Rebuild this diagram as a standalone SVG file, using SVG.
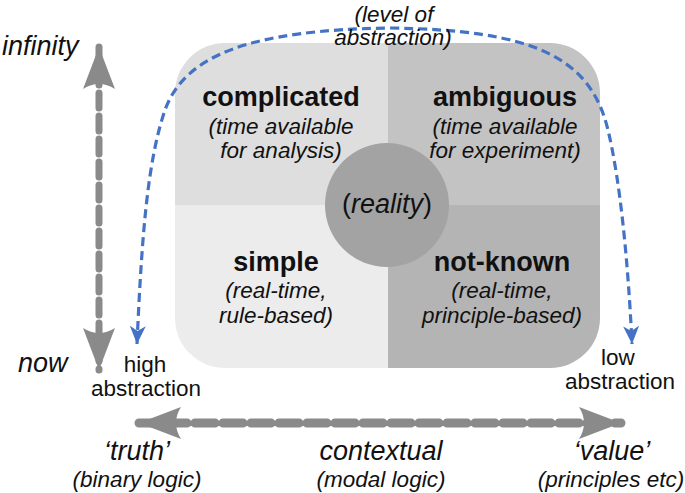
<svg xmlns="http://www.w3.org/2000/svg" width="685" height="493" viewBox="0 0 685 493">
<style>
text{font-family:"Liberation Sans",Arial,Helvetica,sans-serif;fill:#111;text-anchor:middle}
.t{font-weight:bold;font-size:27px}
.s{font-style:italic;font-size:22.5px}
.b{font-style:italic;font-size:27px}
.r{font-size:22.5px}
.gray{fill:none;stroke:#8a8a8a;stroke-linecap:round}
.blue{fill:none;stroke:#4472c4;stroke-width:3.2;stroke-dasharray:9 5}
</style>
<defs>
<clipPath id="box"><rect x="175" y="43" width="425" height="325" rx="50" ry="50"/></clipPath>
<marker id="ga" viewBox="0 0 42 32" refX="42" refY="16" markerWidth="42" markerHeight="32" markerUnits="userSpaceOnUse" orient="auto-start-reverse">
<path d="M0,0 L42,16 L0,32 Q10,16 0,0 Z" fill="#8a8a8a"/>
</marker>
<marker id="ba" viewBox="0 0 18 16" refX="18" refY="8" markerWidth="18" markerHeight="16" markerUnits="userSpaceOnUse" orient="auto-start-reverse">
<path d="M0,0 L18,8 L0,16 L5,8 Z" fill="#4472c4"/>
</marker>
</defs>
<g id="matrix" clip-path="url(#box)">
<g id="complicated"><rect x="175" y="43" width="213" height="162" fill="#dedede"/></g>
<g id="ambiguous"><rect x="388" y="43" width="212" height="162" fill="#c3c3c3"/></g>
<g id="simple"><rect x="175" y="205" width="213" height="163" fill="#ececec"/></g>
<g id="not-known"><rect x="388" y="205" width="212" height="163" fill="#b4b4b4"/></g>
</g>
<g id="reality"><circle cx="387" cy="205" r="62" fill="#a3a3a3"/>
<text x="387" y="213" style="font-size:27px">(<tspan font-style="italic">reality</tspan>)</text></g>
<g id="labels-quadrants">
<text class="t" x="281" y="106">complicated</text>
<text class="s" x="281" y="134">(time available</text>
<text class="s" x="281" y="158">for analysis)</text>
<text class="t" x="505" y="106">ambiguous</text>
<text class="s" x="505" y="134">(time available</text>
<text class="s" x="505" y="158">for experiment)</text>
<text class="t" x="276" y="271">simple</text>
<text class="s" x="276" y="298">(real-time,</text>
<text class="s" x="276" y="323">rule-based)</text>
<text class="t" x="502" y="271">not-known</text>
<text class="s" x="502" y="298">(real-time,</text>
<text class="s" x="502" y="323">principle-based)</text>
</g>
<g id="connectors">
<path class="gray" d="M99,47 L99,370" stroke-width="7" stroke-dasharray="15 8" marker-start="url(#ga)" marker-end="url(#ga)"/>
<path class="gray" d="M139,423 L621,423" stroke-width="9" stroke-dasharray="20 8" marker-start="url(#ga)" marker-end="url(#ga)"/>
<path class="blue" d="M137,344 C142,230 148,160 165,110 C185,55 250,30 390,28 C530,30 590,55 608,130 C620,180 628,260 632,344" marker-start="url(#ba)" marker-end="url(#ba)"/>
</g>
<g id="labels-axes">
<text class="s" x="394" y="22">(level of</text>
<text class="s" x="393" y="45">abstraction)</text>
<text class="b" x="2" y="55" style="text-anchor:start">infinity</text>
<text class="b" x="18" y="372" style="text-anchor:start">now</text>
<text class="r" x="145" y="372">high</text>
<text class="r" x="146" y="396">abstraction</text>
<text class="r" x="618" y="365">low</text>
<text class="r" x="620" y="389">abstraction</text>
<text class="b" x="137" y="460">‘truth’</text>
<text class="s" x="137" y="487">(binary logic)</text>
<text class="b" x="381" y="460">contextual</text>
<text class="s" x="381" y="487">(modal logic)</text>
<text class="b" x="612" y="460">‘value’</text>
<text class="s" x="611" y="487">(principles etc)</text>
</g>
</svg>
